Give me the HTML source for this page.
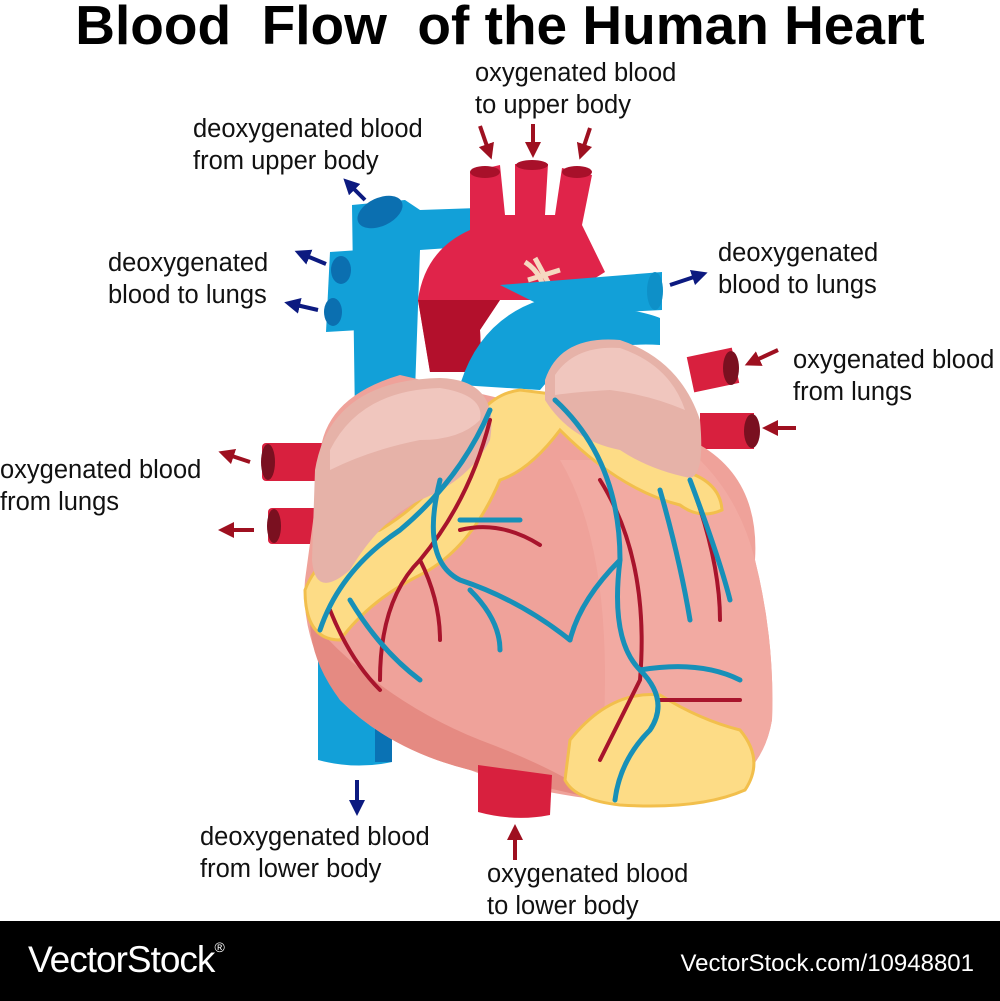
<!DOCTYPE html>
<html><head><meta charset="utf-8"><style>
html,body{margin:0;padding:0;background:#fff;}
#w{position:relative;width:1000px;height:1001px;overflow:hidden;font-family:"Liberation Sans",sans-serif;}
.t{position:absolute;font-size:25.5px;line-height:32px;color:#111;}
h1{position:absolute;left:0;width:1000px;top:-7px;margin:0;text-align:center;font-size:55px;font-weight:bold;color:#000;}
#f{position:absolute;left:0;top:921px;width:1000px;height:80px;background:#000;color:#fff;}
</style></head><body><div id="w">
<svg width="1000" height="1001" style="position:absolute;left:0;top:0">
<defs>
<marker id="nb" markerWidth="4" markerHeight="4" refX="2" refY="2" orient="auto"><path d="M0,0L4,2L0,4z" fill="#0c1a80"/></marker>
<marker id="rr" markerWidth="4" markerHeight="4" refX="2" refY="2" orient="auto"><path d="M0,0L4,2L0,4z" fill="#9e1020"/></marker>
</defs>
<g stroke="#0c1a80" stroke-width="4" marker-end="url(#nb)">
<line x1="365" y1="200" x2="349" y2="184"/>
<line x1="326" y1="264" x2="302" y2="254"/>
<line x1="318" y1="310" x2="292" y2="304"/>
<line x1="670" y1="285" x2="700" y2="275"/>
<line x1="357" y1="780" x2="357" y2="808"/>
</g>
<g stroke="#9e1020" stroke-width="4" marker-end="url(#rr)">
<line x1="480" y1="126" x2="489" y2="152"/>
<line x1="533" y1="124" x2="533" y2="150"/>
<line x1="590" y1="128" x2="582" y2="152"/>
<line x1="778" y1="350" x2="752" y2="362"/>
<line x1="796" y1="428" x2="770" y2="428"/>
<line x1="250" y1="462" x2="226" y2="454"/>
<line x1="254" y1="530" x2="226" y2="530"/>
<line x1="515" y1="860" x2="515" y2="832"/>
</g>
<g fill="#d8203e">
<rect x="262" y="443" width="70" height="38" rx="4"/>
<rect x="268" y="508" width="62" height="36" rx="4"/>
<rect x="690" y="352" width="46" height="36" transform="rotate(-12 713 370)"/>
<rect x="700" y="413" width="54" height="36"/>
</g>
<g fill="#7a1020"><ellipse cx="268" cy="462" rx="7" ry="18"/><ellipse cx="274" cy="526" rx="7" ry="17"/><ellipse cx="731" cy="368" rx="8" ry="17"/><ellipse cx="752" cy="431" rx="8" ry="17"/></g>
<path d="M352,205 L405,200 L420,210 L478,208 L478,246 L420,250 L414,420 L355,420 Z" fill="#12a0d8"/>
<path d="M330,252 L360,250 L360,330 L326,332 Z" fill="#12a0d8"/>
<ellipse cx="380" cy="212" rx="24" ry="14" transform="rotate(-25 380 212)" fill="#0b6fb0"/>
<ellipse cx="341" cy="270" rx="10" ry="14" fill="#0b6fb0"/>
<ellipse cx="333" cy="312" rx="9" ry="14" fill="#0b6fb0"/>
<path d="M318,630 L392,630 L392,762 Q355,770 318,760 Z" fill="#12a0d8"/>
<rect x="375" y="630" width="17" height="132" fill="#0a72b4"/>
<path d="M470,172 L500,165 L505,215 L515,215 L515,164 L548,164 L545,215 L555,215 L562,168 L592,175 L582,225 L605,272 L560,300 L500,300 L480,330 L482,372 L430,372 L418,300 Q425,250 470,230 Z" fill="#e0244a"/>
<path d="M418,300 L430,372 L482,372 L480,330 L500,300 L470,300 Z" fill="#b3102c"/>
<ellipse cx="485" cy="172" rx="15" ry="6" fill="#a8102a"/><ellipse cx="532" cy="165" rx="16" ry="5" fill="#a8102a"/><ellipse cx="577" cy="172" rx="15" ry="6" fill="#a8102a"/>
<path d="M525,262 Q545,275 545,300 M535,258 L555,295 M528,280 L560,270" stroke="#f5d8c0" stroke-width="5" fill="none"/>
<path d="M500,285 L662,272 L662,310 L560,315 Z" fill="#12a0d8"/>
<path d="M460,385 Q480,320 540,300 L570,300 Q640,310 660,318 L660,345 Q580,340 540,390 Z" fill="#12a0d8"/>
<ellipse cx="655" cy="291" rx="8" ry="19" fill="#0e90c8"/>
<path d="M320,470 Q315,400 400,375 L700,445 Q760,480 755,560 Q775,640 772,720 Q760,790 680,805 L600,800 Q520,790 470,770 Q390,750 340,700 Q300,640 305,580 Z" fill="#efa29a"/>
<path d="M470,770 Q390,750 340,700 Q310,660 310,620 Q380,700 480,740 Q560,770 600,800 Z" fill="#e58a82"/>
<path d="M560,460 Q620,560 600,780 L680,805 Q760,790 772,720 Q775,640 755,560 Q740,500 700,460 Z" fill="#f2aaa2"/>
<path d="M478,765 L552,775 L550,815 Q515,822 478,812 Z" fill="#d8203e"/>
<g fill="#fddc86" stroke="#f2bf4c" stroke-width="3">
<path d="M305,590 Q320,550 380,530 Q430,500 460,450 Q480,395 520,390 L560,395 Q600,440 680,470 Q720,480 722,510 Q700,520 680,505 Q620,490 560,430 Q530,470 500,480 Q470,550 420,575 Q370,600 340,640 Q305,640 305,590 Z"/>
<path d="M570,740 Q610,690 660,695 Q700,720 740,730 Q765,760 745,790 Q700,810 620,805 Q575,800 565,780 Z"/>
</g>
<path d="M315,470 Q330,380 440,378 Q500,380 490,440 Q470,480 420,500 Q380,520 350,570 Q315,600 312,560 Z" fill="#e6b2a8"/>
<path d="M330,450 Q360,390 440,388 Q485,395 480,420 Q460,440 420,440 Q370,450 330,470 Z" fill="#f0c6be"/>
<path d="M545,380 Q560,335 620,340 Q680,360 700,420 Q705,475 690,478 Q650,470 620,450 Q570,440 545,400 Z" fill="#e6b2a8"/>
<path d="M555,375 Q575,345 620,348 Q670,365 685,410 Q650,395 610,390 Q575,392 555,395 Z" fill="#f0c6be"/>
<g fill="none" stroke-linecap="round">
<g stroke="#a8142c" stroke-width="4">
<path d="M490,420 Q470,500 420,560 Q380,600 380,680"/>
<path d="M420,560 Q440,600 440,640"/><path d="M460,530 Q500,520 540,545"/>
<path d="M600,480 Q650,560 640,680 Q620,720 600,760"/><path d="M690,480 Q720,560 720,620"/>
<path d="M660,700 Q700,700 740,700"/><path d="M330,610 Q350,660 380,690"/>
</g>
<g stroke="#1790b8" stroke-width="5">
<path d="M490,410 Q460,480 400,530 Q340,570 320,630"/>
<path d="M440,480 Q420,560 460,580 Q520,600 570,640"/>
<path d="M350,600 Q380,650 420,680"/><path d="M470,590 Q500,620 500,650"/>
<path d="M555,400 Q620,460 620,560 Q610,640 640,670 Q670,700 650,730 Q620,760 615,800"/>
<path d="M620,560 Q580,600 570,640"/><path d="M640,670 Q700,660 740,680"/>
<path d="M690,480 Q720,560 730,600"/><path d="M660,490 Q680,560 690,620"/>
<path d="M460,520 Q500,520 520,520"/>
</g>
</g>
</svg>
<h1>Blood&nbsp; Flow&nbsp; of the Human Heart</h1>
<div class="t" style="left:475px;top:57px">oxygenated blood<br>to upper body</div>
<div class="t" style="left:193px;top:113px">deoxygenated blood<br>from upper body</div>
<div class="t" style="left:108px;top:247px">deoxygenated<br>blood to lungs</div>
<div class="t" style="left:718px;top:237px">deoxygenated<br>blood to lungs</div>
<div class="t" style="left:793px;top:344px">oxygenated blood<br>from lungs</div>
<div class="t" style="left:0px;top:454px">oxygenated blood<br>from lungs</div>
<div class="t" style="left:200px;top:821px">deoxygenated blood<br>from lower body</div>
<div class="t" style="left:487px;top:858px">oxygenated blood<br>to lower body</div>
<div id="f">
<div style="position:absolute;left:28px;top:18px;font-size:37px;letter-spacing:-1px">VectorStock<span style="font-size:14px;vertical-align:top">®</span></div>
<div style="position:absolute;right:26px;top:29px;font-size:24px">VectorStock.com/10948801</div>
</div>
</div></body></html>
